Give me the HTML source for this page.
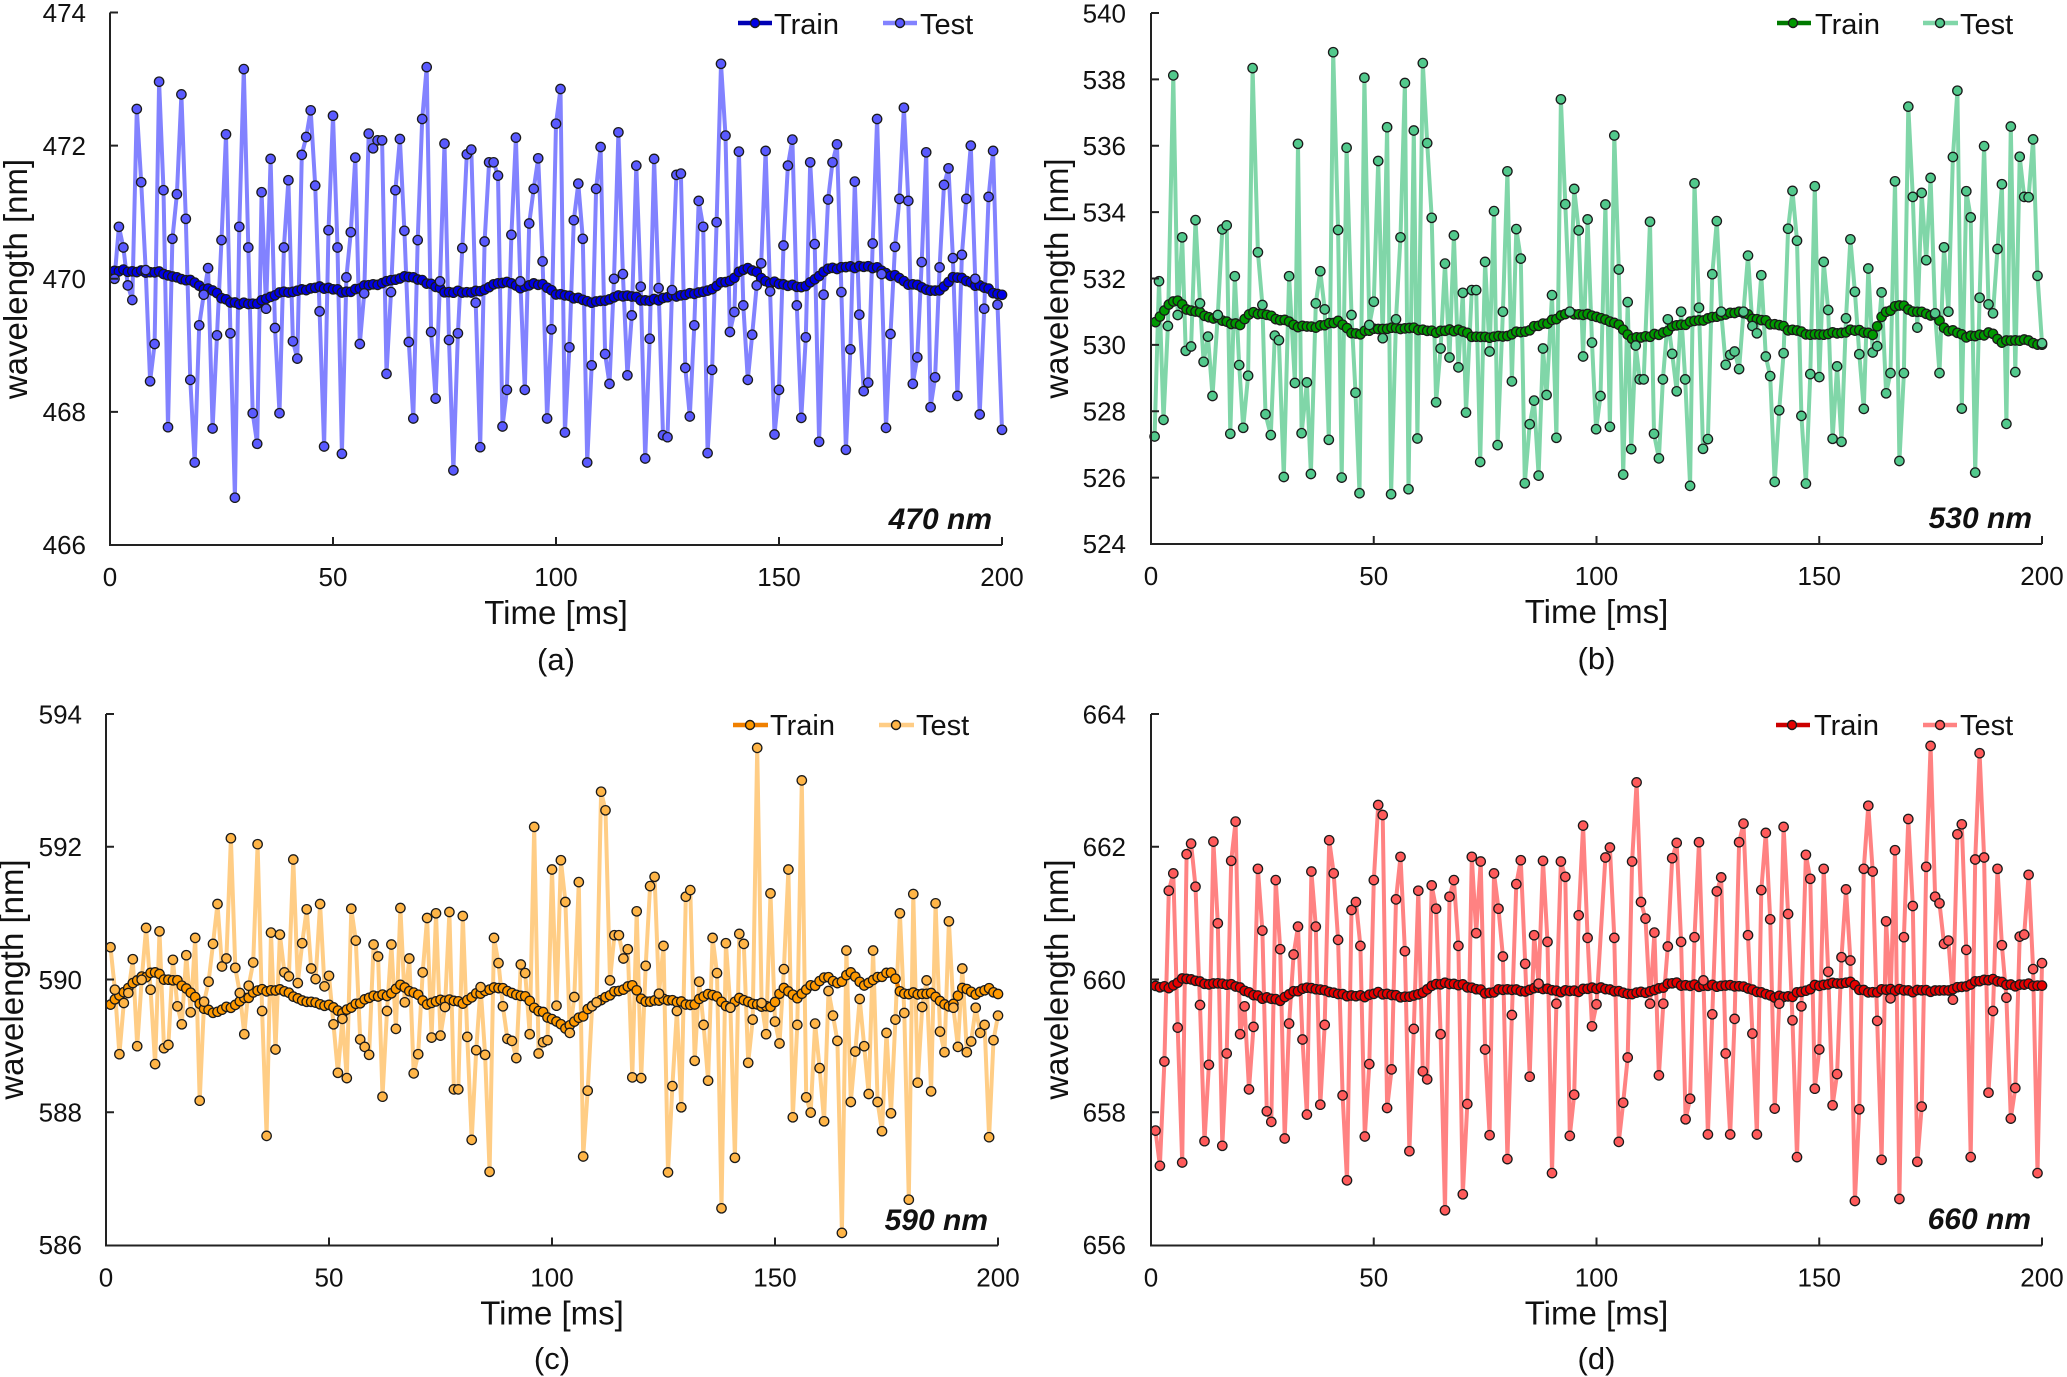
<!DOCTYPE html>
<html><head><meta charset="utf-8">
<style>
html,body{margin:0;padding:0;background:#fff;}
svg{display:block;}
text{font-family:"Liberation Sans",Arial,sans-serif;fill:#111;}
.tk{font-size:26px;}
.ax{font-size:33px;}
.lg{font-size:29px;}
.pl{font-size:31px;}
.nm{font-size:30px;font-weight:bold;font-style:italic;}
</style></head>
<body>
<svg id="s" width="2067" height="1377" viewBox="0 0 2067 1377" xmlns="http://www.w3.org/2000/svg">
<rect width="2067" height="1377" fill="#fff"/>
<g id="data"></g>
<g fill="none" stroke="#222" stroke-width="2">
<path d="M110 12.5 V545 H1002"/>
<path d="M110 12.5 h8 M110 145.6 h8 M110 278.75 h8 M110 411.9 h8 M333 545 v-8 M556 545 v-8 M779 545 v-8 M1002 545 v-8"/>
<path d="M1151 13 V544 H2042"/>
<path d="M1151 13 h8 M1151 79.4 h8 M1151 145.75 h8 M1151 212.1 h8 M1151 278.5 h8 M1151 344.9 h8 M1151 411.25 h8 M1151 477.6 h8 M1373.75 544 v-8 M1596.5 544 v-8 M1819.25 544 v-8 M2042 544 v-8"/>
<path d="M106 714 V1245.5 H998"/>
<path d="M106 714 h8 M106 846.75 h8 M106 979.5 h8 M106 1112.25 h8 M329 1245.5 v-8 M552 1245.5 v-8 M775 1245.5 v-8 M998 1245.5 v-8"/>
<path d="M1151 714 V1245.5 H2042"/>
<path d="M1151 714 h8 M1151 846.75 h8 M1151 979.5 h8 M1151 1112.25 h8 M1373.75 1245.5 v-8 M1596.5 1245.5 v-8 M1819.25 1245.5 v-8 M2042 1245.5 v-8"/>
</g>

<g class="tk" text-anchor="end">
<text x="86" y="22">474</text><text x="86" y="155">472</text><text x="86" y="288">470</text><text x="86" y="421">468</text><text x="86" y="554">466</text>
</g>
<g class="tk" text-anchor="middle">
<text x="110" y="586">0</text><text x="333" y="586">50</text><text x="556" y="586">100</text><text x="779" y="586">150</text><text x="1002" y="586">200</text>
</g>
<text class="ax" x="556" y="624" text-anchor="middle">Time [ms]</text>
<text class="pl" x="556" y="670" text-anchor="middle">(a)</text>
<text class="ax" transform="translate(27,279) rotate(-90)" text-anchor="middle">wavelength [nm]</text>
<text class="nm" x="992" y="529" text-anchor="end">470 nm</text>

<g class="tk" text-anchor="end">
<text x="1126" y="22.5">540</text><text x="1126" y="89">538</text><text x="1126" y="155">536</text><text x="1126" y="221.5">534</text><text x="1126" y="288">532</text><text x="1126" y="354">530</text><text x="1126" y="420.5">528</text><text x="1126" y="487">526</text><text x="1126" y="553">524</text>
</g>
<g class="tk" text-anchor="middle">
<text x="1151" y="585">0</text><text x="1373.75" y="585">50</text><text x="1596.5" y="585">100</text><text x="1819.25" y="585">150</text><text x="2042" y="585">200</text>
</g>
<text class="ax" x="1596.5" y="623" text-anchor="middle">Time [ms]</text>
<text class="pl" x="1596.5" y="669" text-anchor="middle">(b)</text>
<text class="ax" transform="translate(1068,278.5) rotate(-90)" text-anchor="middle">wavelength [nm]</text>
<text class="nm" x="2032" y="528" text-anchor="end">530 nm</text>

<g class="tk" text-anchor="end">
<text x="82" y="723.5">594</text><text x="82" y="856">592</text><text x="82" y="989">590</text><text x="82" y="1121.5">588</text><text x="82" y="1254">586</text>
</g>
<g class="tk" text-anchor="middle">
<text x="106" y="1286.5">0</text><text x="329" y="1286.5">50</text><text x="552" y="1286.5">100</text><text x="775" y="1286.5">150</text><text x="998" y="1286.5">200</text>
</g>
<text class="ax" x="552" y="1324.5" text-anchor="middle">Time [ms]</text>
<text class="pl" x="552" y="1369" text-anchor="middle">(c)</text>
<text class="ax" transform="translate(23,979.5) rotate(-90)" text-anchor="middle">wavelength [nm]</text>
<text class="nm" x="988" y="1230" text-anchor="end">590 nm</text>

<g class="tk" text-anchor="end">
<text x="1126" y="723.5">664</text><text x="1126" y="856">662</text><text x="1126" y="989">660</text><text x="1126" y="1121.5">658</text><text x="1126" y="1254">656</text>
</g>
<g class="tk" text-anchor="middle">
<text x="1151" y="1286.5">0</text><text x="1373.75" y="1286.5">50</text><text x="1596.5" y="1286.5">100</text><text x="1819.25" y="1286.5">150</text><text x="2042" y="1286.5">200</text>
</g>
<text class="ax" x="1596.5" y="1324.5" text-anchor="middle">Time [ms]</text>
<text class="pl" x="1596.5" y="1369" text-anchor="middle">(d)</text>
<text class="ax" transform="translate(1068,979.5) rotate(-90)" text-anchor="middle">wavelength [nm]</text>
<text class="nm" x="2031" y="1229" text-anchor="end">660 nm</text>

<g stroke-width="4.5">
<line x1="738" y1="23" x2="772" y2="23" stroke="#0000b4"/>
<line x1="883" y1="23" x2="917" y2="23" stroke="#8282ff"/>
<line x1="1777" y1="23" x2="1811" y2="23" stroke="#007a00"/>
<line x1="1923" y1="23" x2="1958" y2="23" stroke="#80d6a8"/>
<line x1="733" y1="725" x2="768" y2="725" stroke="#f08000"/>
<line x1="879" y1="725" x2="914" y2="725" stroke="#ffcd85"/>
<line x1="1776" y1="725" x2="1810" y2="725" stroke="#cc0000"/>
<line x1="1923" y1="725" x2="1957" y2="725" stroke="#ff8282"/>
</g>
<g stroke="#1a1a1a" stroke-width="1.4">
<circle cx="755" cy="23" r="4.5" fill="#0000e6"/>
<circle cx="900" cy="23" r="4.5" fill="#5a5aff"/>
<circle cx="1793" cy="23" r="4.5" fill="#009900"/>
<circle cx="1940" cy="23" r="4.5" fill="#52c98c"/>
<circle cx="750" cy="725" r="4.5" fill="#ff9900"/>
<circle cx="896" cy="725" r="4.5" fill="#ffb547"/>
<circle cx="1792" cy="725" r="4.5" fill="#e60000"/>
<circle cx="1940" cy="725" r="4.5" fill="#ff5a5a"/>
</g>
<g class="lg">
<text x="774" y="34">Train</text><text x="920" y="34">Test</text>
<text x="1815" y="34">Train</text><text x="1960" y="34">Test</text>
<text x="770" y="735">Train</text><text x="916" y="735">Test</text>
<text x="1814" y="735">Train</text><text x="1960" y="735">Test</text>
</g>
</svg>
<script>
(function(){
var NS="http://www.w3.org/2000/svg";
var g=document.getElementById("data");
function el(tag,attrs){var e=document.createElementNS(NS,tag);for(var k in attrs)e.setAttribute(k,attrs[k]);g.appendChild(e);return e;}
function seq(arr,start){var r=[];for(var i=0;i<arr.length;i++)r.push([start+i,arr[i]]);return r;}
function pairs(f){var r=[];for(var i=0;i<f.length;i+=2)r.push([f[i],f[i+1]]);return r;}
function interp(cp,x){
 if(x<=cp[0][0])return cp[0][1];
 for(var i=1;i<cp.length;i++){if(x<=cp[i][0]){var x0=cp[i-1][0],y0=cp[i-1][1],x1=cp[i][0],y1=cp[i][1];var t=(x-x0)/(x1-x0);var s=t*t*(3-2*t);return y0+(y1-y0)*s;}}
 return cp[cp.length-1][1];
}
var A=[470.0,470.78,470.47,469.9,469.68,472.55,471.45,470.13,468.46,469.02,
472.96,471.33,467.77,470.6,471.27,472.77,470.9,468.48,467.24,469.3,
469.76,470.16,467.75,469.15,470.58,472.17,469.18,466.71,470.78,473.15,
470.47,467.98,467.52,471.3,469.55,471.8,469.26,467.98,470.47,471.48,
469.06,468.8,471.86,472.13,472.53,471.4,469.51,467.48,470.73,472.45,
470.47,467.37,470.02,470.7,471.82,469.02,469.78,472.18,471.96,472.08,
472.08,468.57,469.8,471.33,472.1,470.72,469.05,467.9,470.58,472.4,
473.18,469.2,468.2,469.96,472.03,469.08,467.12,469.18,470.46,471.87,
471.94,469.64,467.47,470.56,471.75,471.75,471.55,467.78,468.33,470.66,
472.12,469.96,468.33,470.83,471.35,471.81,470.26,467.9,469.24,472.33,
472.85,467.69,468.97,470.88,471.43,470.6,467.24,468.7,471.35,471.98,
468.87,468.42,470.0,472.2,470.07,468.55,469.45,471.7,469.88,467.3,
469.1,471.8,469.86,467.65,467.62,469.83,471.56,471.58,468.66,467.93,
469.3,471.17,470.78,467.38,468.63,470.85,473.23,472.15,469.2,469.5,
471.91,469.6,468.48,469.16,469.9,470.23,471.92,469.81,467.66,468.33,
470.5,471.7,472.09,469.6,467.91,469.12,471.75,470.52,467.55,469.76,
471.19,471.75,472.02,469.8,467.43,468.94,471.46,469.46,468.31,468.44,
470.53,472.4,470.07,467.76,469.17,470.48,471.2,472.57,471.17,468.42,
468.82,470.25,471.9,468.07,468.52,470.17,471.41,471.66,470.31,468.24,
470.36,471.2,472.0,470.0,467.96,469.55,471.23,471.92,469.61,467.73];
var At=[[1,470.12],[10,470.1],[17,469.99],[22,469.84],[27.5,469.64],[31.4,469.62],[39.4,469.8],[47.5,469.87],[53.5,469.8],[57.5,469.9],[67.5,470.03],[71.5,469.93],[75.5,469.8],[81.5,469.8],[88.5,469.95],[92.5,469.87],[95.6,469.93],[101.6,469.75],[108.6,469.65],[115.6,469.75],[120.6,469.67],[127.6,469.75],[133,469.8],[138,469.95],[143,470.16],[148,469.94],[155,469.88],[162,470.16],[167,470.18],[171,470.18],[175,470.06],[180,469.91],[185,469.81],[190,470.03],[194,469.91],[200,469.76]];
var B=pairs([0.8,527.24,1.8,531.92,2.8,527.74,3.8,530.57,5,538.12,6,530.9,7,533.24,7.8,529.82,9,529.95,10,533.76,11,531.25,11.8,529.49,12.8,530.25,13.8,528.46,15,530.9,16,533.48,17,533.6,17.8,527.32,18.8,532.07,19.8,529.39,20.7,527.5,21.8,529.07,22.8,538.34,24,532.79,25,531.2,25.7,527.91,26.9,527.28,27.8,530.28,28.7,530.14,29.8,526.02,31,532.07,32.3,528.85,33,536.06,33.8,527.34,35,528.87,35.9,526.11,37,531.25,38,532.22,39,531.07,39.9,527.14,40.9,538.82,42,533.46,42.8,526.0,43.9,535.94,45,530.9,45.9,528.56,46.8,525.53,47.9,538.05,49,530.6,50,531.3,51,535.54,52,530.2,53,536.56,53.9,525.5,55,530.77,56,533.24,57,537.89,57.8,525.65,59,536.46,59.8,527.18,61,538.49,62,536.08,63,533.83,64,528.27,65,529.89,66,532.45,67,529.62,68,533.3,69,529.32,70,531.57,70.7,527.96,72,531.65,73,531.65,73.9,526.47,75,532.5,76,529.8,77,534.03,77.8,526.98,79,531.0,80,535.23,81,528.9,82,533.49,83,532.6,83.9,525.83,85,527.61,86,528.32,87,526.06,88,529.89,88.8,528.49,90,531.5,91,527.2,92,537.4,93,534.24,94,531.0,95,534.7,96,533.45,97,529.65,98,533.78,99,530.07,99.9,527.46,100.9,528.46,102,534.23,103,527.53,104,536.31,105,532.27,106,526.09,107,531.29,107.8,526.86,108.8,529.98,109.7,528.96,110.6,528.96,112,533.71,112.9,527.32,114,526.58,114.9,528.96,116,530.77,117,529.73,118,528.6,119,531.0,119.9,528.96,121,525.75,122,534.87,123,531.12,123.9,526.87,125,527.16,126,532.13,127,533.73,128,531.0,129,529.4,130,529.7,131,529.8,132,529.27,133,531.0,134,532.69,135,530.57,136,530.35,137,532.1,138,529.65,139,529.06,140,525.87,141,528.03,142,529.75,143,533.5,144,534.64,145,533.14,146,527.86,147,525.82,148,529.12,149,534.78,150,529.03,151,532.5,152,531.05,153,527.17,154,529.35,155,527.08,156,530.8,157,533.18,158,531.6,159,529.72,160,528.07,161,532.3,162,529.77,163,529.96,164,531.58,165,528.54,166,529.15,167,534.93,168,526.5,169,529.15,170,537.18,171,534.46,172,530.52,173,534.58,174,532.55,175,535.03,176,530.95,177,529.15,178,532.94,179,531.0,180,535.66,181,537.66,182,528.08,183,534.63,184,533.84,185,526.15,186,531.42,187,535.99,188,531.22,189,530.95,190,532.89,191,534.84,192,527.62,193,536.58,194,529.18,195,535.67,196,534.46,197,534.45,198,536.19,199,532.08,200,530.05]);
var Bt=[[0.5,530.7],[5.5,531.35],[8.5,531.05],[14.5,530.8],[19.5,530.6],[22.5,530.95],[24.5,530.95],[29.5,530.75],[33.5,530.55],[37.5,530.55],[41.5,530.7],[46.5,530.3],[48.5,530.45],[53.5,530.5],[58.5,530.5],[63.5,530.4],[68.5,530.45],[73.5,530.23],[78.5,530.25],[83.5,530.4],[88.5,530.65],[93.5,530.95],[98.5,530.9],[103.5,530.7],[108.5,530.2],[113.5,530.3],[118.5,530.6],[123.5,530.75],[128.5,530.9],[131.7,531.0],[136.7,530.75],[140.7,530.6],[143.7,530.45],[148.7,530.3],[153.7,530.35],[158.7,530.45],[161.7,530.3],[164.7,530.95],[167.7,531.2],[171.7,531.0],[175.7,530.9],[178.7,530.45],[183.7,530.25],[188.7,530.35],[190.7,530.1],[195.7,530.15],[200,530.0]];
var C=[590.49,589.85,588.88,589.65,589.8,590.31,589.0,590.0,590.78,589.85,
588.73,590.73,588.97,589.02,590.3,589.6,589.33,590.37,589.51,590.63,
588.18,589.67,589.97,590.54,591.14,590.2,590.32,592.13,590.18,589.8,
589.18,589.91,590.26,592.04,589.53,587.65,590.71,588.95,590.68,590.11,
590.05,591.81,589.95,590.55,591.06,590.17,590.01,591.14,589.9,590.06,
589.33,588.6,589.41,588.52,591.07,590.59,589.1,588.99,588.87,590.53,
590.35,588.24,589.53,590.53,589.26,591.08,589.66,590.32,588.59,588.88,
590.11,590.93,589.13,591.0,589.16,589.59,591.02,588.35,588.35,590.96,
589.14,587.59,588.94,589.89,588.87,587.11,590.63,590.25,589.6,589.11,
589.08,588.82,590.23,590.1,589.18,592.3,588.89,589.06,589.09,591.66,
589.61,591.8,591.17,589.2,589.74,591.47,587.34,588.33,589.6,589.66,
592.83,592.55,589.99,590.67,590.67,590.32,590.46,588.53,591.03,588.52,
590.21,591.41,591.55,589.79,590.51,587.1,588.4,589.53,588.08,591.25,
591.35,588.78,589.97,589.32,588.48,590.63,590.1,586.56,590.55,589.58,
587.32,590.69,590.54,588.75,589.4,593.49,589.65,589.18,591.3,589.37,
589.04,590.16,591.66,587.93,589.32,593.0,588.23,588.0,589.34,588.67,
587.87,589.83,589.46,589.08,586.19,590.44,588.16,588.92,589.71,589.0,
588.28,590.44,588.16,587.72,589.2,587.99,589.4,591.0,589.5,586.69,
591.29,588.45,589.59,589.99,588.32,591.15,589.22,588.91,590.88,589.58,
588.99,590.17,588.91,589.07,589.58,589.2,589.32,587.63,589.09,589.46];
var Ct=[[1,589.64],[3,589.76],[6,589.94],[8,590.04],[11,590.11],[14,589.99],[16,589.99],[18,589.86],[20,589.74],[22,589.56],[24,589.51],[28,589.59],[31,589.71],[34,589.84],[40,589.84],[43,589.71],[46,589.66],[50,589.61],[53,589.51],[57,589.66],[60,589.76],[63,589.76],[66,589.91],[69,589.81],[72,589.64],[76,589.7],[80,589.66],[84,589.81],[88,589.89],[91,589.8],[94,589.74],[97,589.53],[100,589.41],[103,589.28],[106,589.41],[109,589.61],[112,589.74],[115,589.84],[118,589.91],[121,589.66],[124,589.7],[127,589.69],[131,589.62],[135.4,589.79],[139.9,589.59],[142,589.72],[145.9,589.62],[149.2,589.59],[151.8,589.87],[154.8,589.74],[158.6,589.92],[161.6,590.04],[164.5,589.94],[166.8,590.12],[169.8,589.92],[172.8,590.02],[175.8,590.12],[178.7,589.79],[181.7,589.79],[184.7,589.79],[189.2,589.59],[192.2,589.87],[195.2,589.79],[198.2,589.87],[200,589.77]];
var D1=[657.73,657.2,658.77,661.34,661.6,659.28,657.25,661.89,662.05,661.4,
659.62,657.57,658.72,662.08,660.85,657.5,658.89,661.79,662.38,659.18,
659.6,658.35,659.29,661.67,660.74,658.02,657.86,661.5,660.46,657.61,
659.34,660.38,660.8,659.1,657.97,661.63,660.8,658.12,659.32,662.1,
661.6,660.6,658.26,656.98,661.05,661.17,660.51,657.64,658.73,661.5,
662.63,662.48,658.07,658.65,661.21,661.85,660.43,657.42,659.26,661.34,
658.62,658.5,661.42,661.07,659.18,656.53,661.25,661.5,660.51,656.77,
658.13,661.85,660.7,661.78,658.95,657.66,661.6,661.07,660.35,657.3,
659.47,661.44,661.8,660.24,658.54,660.67,659.94,661.79,660.57,657.09,
659.64,661.78,661.55,657.65,658.27,660.97,662.32,660.63,659.3,659.63];
var D2=[661.84,661.99,660.63,657.56,658.15,658.83,661.78,662.97,661.17,660.92,
659.64,660.71,658.56,659.64,660.5,661.83,662.06,660.57,657.9,658.21,
660.64,662.07,659.99,657.67,659.48,661.33,661.54,658.89,657.67,659.41,
662.07,662.35,660.67,659.19,657.67,661.35,662.21,660.91,658.06,659.64,
662.3,660.99,659.39,657.33,659.6,661.88,661.52,658.36,658.95,661.67,
660.12,658.11,658.58,660.34,661.36,660.29,656.67,658.05,661.67,662.62,
661.63,659.38,657.29,660.88,659.72,661.95,656.7,660.64,662.42,661.11,
657.26,658.09,661.7,663.52,661.25,661.15,660.54,660.59,659.7,662.19,
662.34,660.45,657.33,661.81,663.41,661.84,658.3,659.53,661.67,660.52,
659.73,657.91,658.37,660.65,660.68,661.58,660.16,657.09,660.25];
var Dt=[[0.5,659.91],[3.5,659.88],[8,660.02],[12.5,659.94],[17,659.94],[20,659.88],[23,659.77],[26,659.72],[29,659.7],[32.7,659.84],[35.7,659.88],[39.4,659.83],[43.2,659.77],[47,659.75],[51.4,659.8],[55.9,659.75],[58.1,659.74],[61,659.81],[64,659.94],[67.8,659.94],[72.3,659.88],[75.3,659.8],[79.8,659.86],[83.5,659.83],[87.3,659.88],[91,659.83],[94.8,659.83],[100,659.88],[103,659.85],[107,659.79],[110.6,659.81],[113.6,659.85],[116.6,659.95],[121,659.91],[125.6,659.91],[131.6,659.91],[134.6,659.86],[137.5,659.79],[140.5,659.74],[143.5,659.75],[146.5,659.83],[149.5,659.91],[152.5,659.94],[157,659.96],[159.2,659.86],[161.4,659.8],[164.4,659.85],[167.5,659.85],[170.5,659.83],[173.5,659.84],[176.4,659.83],[179.4,659.85],[182.4,659.9],[186.9,660.0],[189.9,659.99],[192.9,659.91],[195.9,659.93],[200,659.91]];
var panels=[
 {x0:110,x1:1002,yT:12.5,yB:545,vmax:474,vmin:466,test:seq(A,1),train:At,tl:"#8282ff",tm:"#5a5aff",rl:"#0000b4",rm:"#0000e6",seed:1},
 {x0:1151,x1:2042,yT:13,yB:544,vmax:540,vmin:524,test:B,train:Bt,tl:"#80d6a8",tm:"#52c98c",rl:"#007a00",rm:"#009900",seed:2},
 {x0:106,x1:998,yT:714,yB:1245.5,vmax:594,vmin:586,test:seq(C,1),train:Ct,tl:"#ffcd85",tm:"#ffb547",rl:"#f08000",rm:"#ff9900",seed:3},
 {x0:1151,x1:2042,yT:714,yB:1245.5,vmax:664,vmin:656,test:seq(D1,1).concat(seq(D2,102)),train:Dt,tl:"#ff8282",tm:"#ff5a5a",rl:"#cc0000",rm:"#e60000",seed:4}
];
panels.forEach(function(p){
 var sx=(p.x1-p.x0)/200, sy=(p.yB-p.yT)/(p.vmax-p.vmin);
 function X(m){return p.x0+m*sx;} function Y(v){return p.yT+(p.vmax-v)*sy;}
 var tp=p.test.map(function(a){return [X(a[0]),Y(a[1])];});
 var rp=[];
 for(var m=1;m<=200;m++){var v=interp(p.train,m);var y=Y(v)+1.3*Math.sin(m*2.3+p.seed)*Math.cos(m*0.71+p.seed);rp.push([X(m),y]);}
 function pts(a){return a.map(function(q){return q[0].toFixed(1)+","+q[1].toFixed(1);}).join(" ");}
 el("polyline",{points:pts(tp),fill:"none",stroke:p.tl,"stroke-width":4,"stroke-linejoin":"round"});
 el("polyline",{points:pts(rp),fill:"none",stroke:p.rl,"stroke-width":4,"stroke-linejoin":"round"});
 rp.forEach(function(q){el("circle",{cx:q[0].toFixed(1),cy:q[1].toFixed(1),r:4.7,fill:p.rm,stroke:"#1a1a1a","stroke-width":1.3});});
 tp.forEach(function(q){el("circle",{cx:q[0].toFixed(1),cy:q[1].toFixed(1),r:4.7,fill:p.tm,stroke:"#1a1a1a","stroke-width":1.3});});
});
})();
</script>
</body></html>
